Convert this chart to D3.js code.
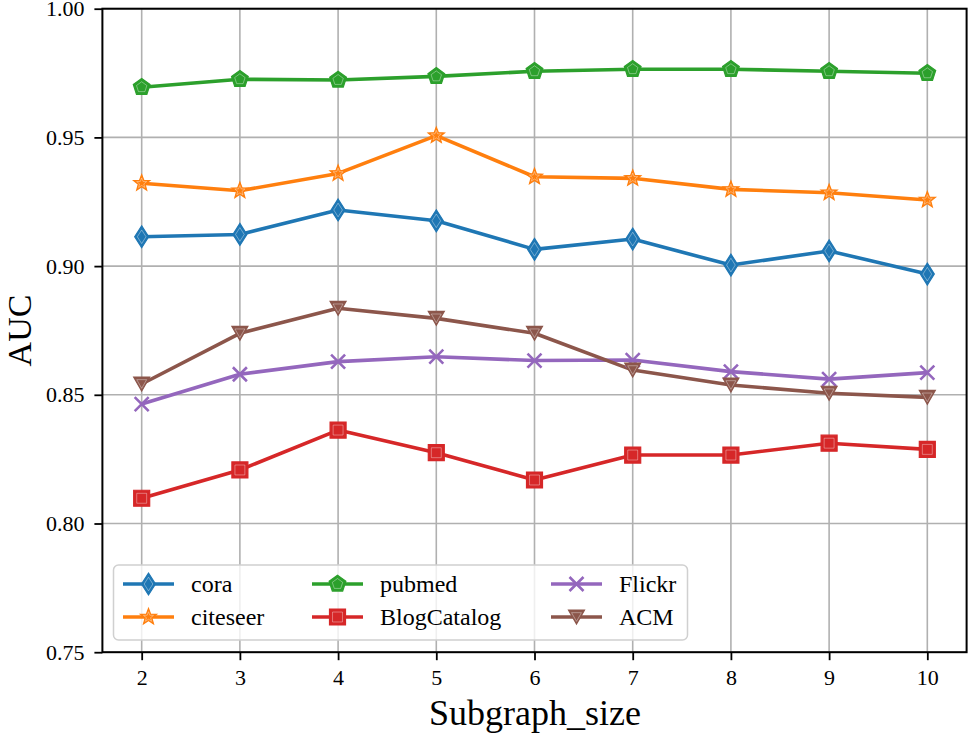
<!DOCTYPE html>
<html>
<head>
<meta charset="utf-8">
<script src="https://cdn.jsdelivr.net/npm/d3@7"></script>
<style>
  body { margin: 0; background: #fff; }
  svg { display: block; font-family: "Liberation Serif", "Times New Roman", serif; }
</style>
</head>
<body>
<div id="chart"></div>
<script>
const FRAME_WIDTH = 968;
const FRAME_HEIGHT = 736;
const MARGINS = {left: 102.4, right: 1.4, top: 8.7, bottom: 83.8};

// data
const SIZES = [2, 3, 4, 5, 6, 7, 8, 9, 10];
const CORA = [0.9114, 0.9123, 0.9218, 0.9176, 0.9065, 0.9105, 0.9004, 0.9059, 0.8969];
const CITESEER = [0.9322, 0.9293, 0.9360, 0.9507, 0.9347, 0.9341, 0.9298, 0.9285, 0.9257];
const PUBMED = [0.9695, 0.9726, 0.9723, 0.9737, 0.9757, 0.9765, 0.9765, 0.9757, 0.9749];
const BLOGCATALOG = [0.8098, 0.8208, 0.8363, 0.8275, 0.8169, 0.8266, 0.8266, 0.8312, 0.8288];
const FLICKR = [0.8464, 0.8580, 0.8629, 0.8648, 0.8633, 0.8635, 0.8590, 0.8561, 0.8586];
const ACM = [0.8542, 0.8739, 0.8836, 0.8797, 0.8739, 0.8596, 0.8538, 0.8506, 0.8490];
const Y_TICKS = [0.75, 0.80, 0.85, 0.90, 0.95, 1.00];

const SERIES = [
  {name: "cora", values: CORA, color: "#1f77b4", marker: "diamond"},
  {name: "citeseer", values: CITESEER, color: "#ff7f0e", marker: "star"},
  {name: "pubmed", values: PUBMED, color: "#2ca02c", marker: "pentagon"},
  {name: "BlogCatalog", values: BLOGCATALOG, color: "#d62728", marker: "square"},
  {name: "Flickr", values: FLICKR, color: "#9467bd", marker: "x"},
  {name: "ACM", values: ACM, color: "#8c564b", marker: "tri_down"}
];

const X_SCALE = d3.scaleLinear()
  .domain([1.6, 10.4])
  .range([MARGINS.left, FRAME_WIDTH - MARGINS.right]);

const Y_SCALE = d3.scaleLinear()
  .domain([0.75, 1.0])
  .range([FRAME_HEIGHT - MARGINS.bottom, MARGINS.top]);

const FRAME = d3.select("#chart")
  .append("svg")
    .attr("width", FRAME_WIDTH)
    .attr("height", FRAME_HEIGHT);

// marker shapes, centred on 0,0
function markerPath(type) {
  switch (type) {
    case "diamond":
      return "M0,-11L7,0L0,11L-7,0Z";
    case "square":
      return "M-8,-8L8,-8L8,8L-8,8Z";
    case "tri_down":
      return "M-8,-7L8,-7L0,7Z";
    case "x":
      return "M-7,-7L7,7M-7,7L7,-7";
    case "pentagon": {
      let p = d3.path();
      for (let i = 0; i < 5; i++) {
        let a = -Math.PI / 2 + i * 2 * Math.PI / 5;
        let r = 8.8;
        if (i == 0) p.moveTo(r * Math.cos(a), r * Math.sin(a));
        else p.lineTo(r * Math.cos(a), r * Math.sin(a));
      }
      p.closePath();
      return p.toString();
    }
    case "star": {
      let p = d3.path();
      for (let i = 0; i < 10; i++) {
        let a = -Math.PI / 2 + i * Math.PI / 5;
        let r = i % 2 == 0 ? 8.5 : 3.6;
        if (i == 0) p.moveTo(r * Math.cos(a), r * Math.sin(a));
        else p.lineTo(r * Math.cos(a), r * Math.sin(a));
      }
      p.closePath();
      return p.toString();
    }
  }
}

function drawMarker(g, s, x, y) {
  let m = g.append("g").attr("transform", "translate(" + x + "," + y + ")");
  if (s.marker == "x") {
    m.append("path").attr("d", markerPath("x"))
      .attr("stroke", s.color).attr("stroke-width", 2.6).attr("fill", "none");
    return;
  }
  m.append("path").attr("d", markerPath(s.marker))
    .attr("fill", s.color).attr("stroke", s.color).attr("stroke-width", 1.2)
    .attr("stroke-linejoin", "miter");
  // faint inner outline like the original's marker edge
  m.append("path").attr("d", markerPath(s.marker))
    .attr("transform", "scale(0.62)")
    .attr("fill", "none").attr("stroke", "#fff").attr("stroke-opacity", 0.45)
    .attr("stroke-width", 1.3);
}

// grid lines
FRAME.append("g")
  .selectAll("line")
  .data(SIZES)
  .enter()
  .append("line")
    .attr("x1", (d) => X_SCALE(d))
    .attr("x2", (d) => X_SCALE(d))
    .attr("y1", Y_SCALE(0.75))
    .attr("y2", Y_SCALE(1.0))
    .attr("stroke", "#b0b0b0")
    .attr("stroke-width", 1.6);

FRAME.append("g")
  .selectAll("line")
  .data(Y_TICKS)
  .enter()
  .append("line")
    .attr("x1", X_SCALE(1.6))
    .attr("x2", X_SCALE(10.4))
    .attr("y1", (d) => Y_SCALE(d))
    .attr("y2", (d) => Y_SCALE(d))
    .attr("stroke", "#b0b0b0")
    .attr("stroke-width", 1.6);

// lines and markers
const line = d3.line()
  .x((d, i) => X_SCALE(SIZES[i]))
  .y((d) => Y_SCALE(d));

for (let s of SERIES) {
  FRAME.append("path")
    .datum(s.values)
    .attr("d", line)
    .attr("fill", "none")
    .attr("stroke", s.color)
    .attr("stroke-width", 3.6)
    .attr("stroke-linejoin", "round");
}
for (let s of SERIES) {
  let g = FRAME.append("g");
  s.values.forEach((v, i) => drawMarker(g, s, X_SCALE(SIZES[i]), Y_SCALE(v)));
}

// axes
let xAxis = FRAME.append("g")
  .attr("transform", "translate(0," + Y_SCALE(0.75) + ")")
  .call(d3.axisBottom(X_SCALE).tickValues(SIZES).tickFormat(d3.format("d")).tickSize(8).tickPadding(9));
let yAxis = FRAME.append("g")
  .attr("transform", "translate(" + X_SCALE(1.6) + ",0)")
  .call(d3.axisLeft(Y_SCALE).tickValues(Y_TICKS).tickFormat(d3.format(".2f")).tickSize(8).tickPadding(10));

for (let ax of [xAxis, yAxis]) {
  ax.select(".domain").remove();
  ax.selectAll(".tick line").attr("stroke", "#000").attr("stroke-width", 1.8);
  ax.selectAll(".tick text")
    .attr("fill", "#000")
    .attr("font-family", "'Liberation Serif', 'Times New Roman', serif")
    .attr("font-size", "22px");
}

// frame / spines
FRAME.append("rect")
  .attr("x", X_SCALE(1.6))
  .attr("y", Y_SCALE(1.0))
  .attr("width", X_SCALE(10.4) - X_SCALE(1.6))
  .attr("height", Y_SCALE(0.75) - Y_SCALE(1.0))
  .attr("fill", "none")
  .attr("stroke", "#000")
  .attr("stroke-width", 2);

// axis titles
FRAME.append("text")
  .attr("x", 535)
  .attr("y", 725)
  .attr("text-anchor", "middle")
  .attr("font-size", "36px")
  .text("Subgraph_size");

FRAME.append("text")
  .attr("transform", "translate(31,330.5) rotate(-90)")
  .attr("text-anchor", "middle")
  .attr("font-size", "34px")
  .text("AUC");

// legend
const LEG = FRAME.append("g");
LEG.append("rect")
  .attr("x", 113.5).attr("y", 565)
  .attr("width", 574).attr("height", 75)
  .attr("rx", 5)
  .attr("fill", "#fff").attr("fill-opacity", 0.8)
  .attr("stroke", "#d0d0d0").attr("stroke-width", 1.5);

const COL_X = [123, 312, 551];
const ROW_Y = [584, 617];
SERIES.forEach((s, i) => {
  let cx = COL_X[Math.floor(i / 2)];
  let cy = ROW_Y[i % 2];
  LEG.append("line")
    .attr("x1", cx).attr("x2", cx + 51)
    .attr("y1", cy).attr("y2", cy)
    .attr("stroke", s.color).attr("stroke-width", 3.6);
  drawMarker(LEG, s, cx + 25.5, cy);
  LEG.append("text")
    .attr("x", cx + 68)
    .attr("y", cy)
    .attr("dy", "0.33em")
    .attr("font-size", "24px")
    .text(s.name);
});
</script>
</body>
</html>
